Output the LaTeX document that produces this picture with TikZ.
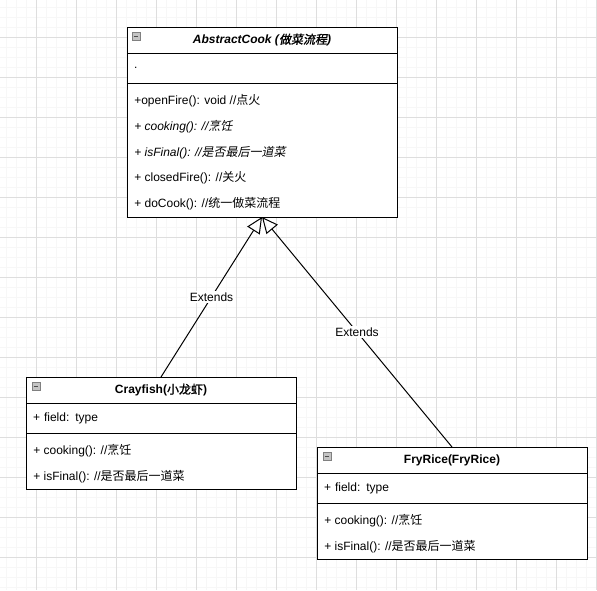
\documentclass[tikz,border=0pt]{standalone}
\usepackage{fontspec}
\setmainfont{Liberation Sans}
\newfontfamily\cjk{Noto Sans CJK SC}
\newfontfamily\cjkit[FakeSlant=0.2]{Noto Sans CJK SC}
\newfontfamily\cjkbf[FakeBold=1.5]{Noto Sans CJK SC}
\newfontfamily\cjkbi[FakeSlant=0.2,FakeBold=1.5]{Noto Sans CJK SC}
\newcommand\zh[1]{{\normalfont\cjk #1}}
\newcommand\zhit[1]{{\normalfont\cjkit #1}}
\newcommand\zhbf[1]{{\normalfont\cjkbf #1}}
\newcommand\zhbi[1]{{\normalfont\cjkbi #1}}
\usepackage{tikz}
\usetikzlibrary{arrows.meta}
\usetikzlibrary{positioning}
\definecolor{gridminor}{HTML}{F7F7F7}
\definecolor{gridmajor}{HTML}{DEDEDE}
\definecolor{toggray}{HTML}{C4C4C4}

\tikzset{
  umlfont/.style={font=\fontsize{9pt}{11pt}\selectfont},
  uml/.style={draw, fill=white, line width=0.75pt, inner sep=0pt, outer sep=0pt, umlfont},
  head/.style={uml, anchor=north west, minimum width=202.5pt, minimum height=19.5pt},
  attr/.style={uml, text width=192pt, inner xsep=5.25pt, align=left, minimum height=22.5pt},
  ops/.style={uml, minimum width=202.5pt},
  row/.style={anchor=mid west, inner sep=0pt, umlfont},
  tog/.style={draw=gray, fill=toggray, line width=0.5pt, minimum size=6pt, inner sep=0pt,
    path picture={\draw[line width=0.6pt, black!70] ([xshift=1.3pt]path picture bounding box.west) -- ([xshift=-1.3pt]path picture bounding box.east);}},
  inh/.style={draw, line width=0.75pt, -{Triangle[open, length=12pt, width=11pt]}},
  lbl/.style={fill=white, inner sep=1pt, umlfont}
}

\begin{document}
\begin{tikzpicture}[x=0.75pt, y=-0.75pt]
  \useasboundingbox (0,0) rectangle (597,590);
  \fill[white] (0,0) rectangle (597,590);
  \foreach \x in {6,16,...,596} \draw[gridminor, line width=0.75pt] (\x,0) -- (\x,590);
  \foreach \y in {7,17,...,587} \draw[gridminor, line width=0.75pt] (0,\y) -- (597,\y);
  \foreach \x in {36,76,...,596} \draw[gridmajor, line width=0.75pt] (\x,0) -- (\x,590);
  \foreach \y in {37,77,...,577} \draw[gridmajor, line width=0.75pt] (0,\y) -- (597,\y);

  % AbstractCook
  \node[head] (abs) at (127,27) {\bfseries\itshape AbstractCook (\zhbi{做菜流程})};
  \node[attr, below=0pt of abs] (absattr) {.};
  \node[ops, minimum height=100.5pt, below=0pt of absattr] (absops) {};
  \node[tog] (abstog) at (136,36) {};
  \node[row] (abs1) at (134,101) {+openFire(): void //\zh{点火}};
  \node[row] (abs2) at (134,127) {\itshape + cooking(): //\zhit{烹饪}};
  \node[row] (abs3) at (134,153) {\itshape + isFinal(): //\zhit{是否最后一道菜}};
  \node[row] (abs4) at (134,178) {+ closedFire(): //\zh{关火}};
  \node[row] (abs5) at (134,204) {+ doCook(): //\zh{统一做菜流程}};

  % Crayfish
  \node[head] (cray) at (26,377) {\bfseries Crayfish(\zhbf{小龙虾})};
  \node[attr, below=0pt of cray] (crayattr) {+ field: type};
  \node[ops, minimum height=42pt, below=0pt of crayattr] (crayops) {};
  \node[tog] (craytog) at (36,386) {};
  \node[row] (cray1) at (33,451) {+ cooking(): //\zh{烹饪}};
  \node[row] (cray2) at (33,477) {+ isFinal(): //\zh{是否最后一道菜}};

  % FryRice
  \node[head] (fry) at (317,447) {\bfseries FryRice(FryRice)};
  \node[attr, below=0pt of fry] (fryattr) {+ field: type};
  \node[ops, minimum height=42pt, below=0pt of fryattr] (fryops) {};
  \node[tog] (frytog) at (327,456) {};
  \node[row] (fry1) at (324,521) {+ cooking(): //\zh{烹饪}};
  \node[row] (fry2) at (324,547) {+ isFinal(): //\zh{是否最后一道菜}};

  \draw[inh] (cray.north) -- node[lbl] {Extends} (absops.south);
  \draw[inh] (fry.north) -- node[lbl] {Extends} (absops.south);
\end{tikzpicture}
\end{document}
